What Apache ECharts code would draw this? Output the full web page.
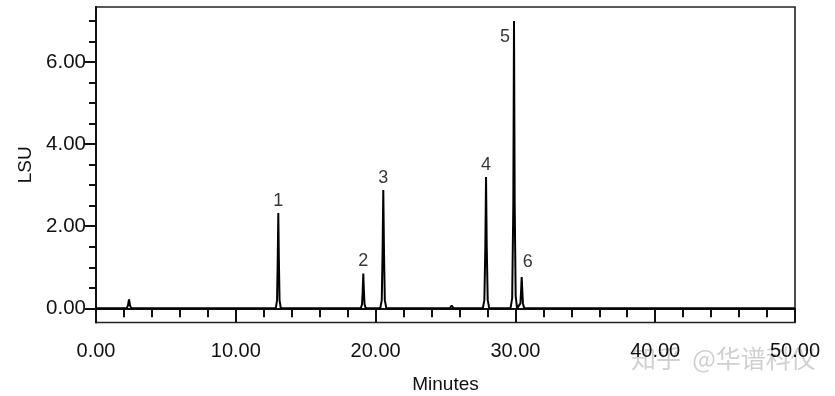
<!DOCTYPE html>
<html>
<head>
<meta charset="utf-8">
<script src="https://cdn.jsdelivr.net/npm/echarts@6/dist/echarts.min.js"></script>
<style>html,body{margin:0;padding:0;background:#fff}#c{width:835px;height:396px}</style>
</head>
<body>
<div id="c"></div>
<script>
// Chromatogram trace (minutes, LSU)
const traceTimes = [0, 2.18, 2.28, 2.36, 2.44, 2.54,
  12.86, 12.95, 13.0, 13.04, 13.08, 13.13, 13.22,
  18.94, 19.03, 19.08, 19.12, 19.16, 19.21, 19.30,
  20.33, 20.44, 20.50, 20.55, 20.60, 20.66, 20.77,
  25.30, 25.44, 25.58,
  27.67, 27.78, 27.85, 27.90, 27.95, 28.02, 28.13,
  29.65, 29.77, 29.85, 29.90, 29.95, 30.02, 30.12,
  30.26, 30.36, 30.41, 30.45, 30.49, 30.54, 30.63,
  50];
const traceValues = [0, 0, 0.06, 0.22, 0.06, 0,
  0, 0.2, 1.2, 2.32, 1.2, 0.2, 0,
  0, 0.1, 0.45, 0.85, 0.45, 0.1, 0,
  0, 0.2, 1.4, 2.88, 1.4, 0.2, 0,
  0, 0.07, 0,
  0, 0.2, 1.5, 3.2, 1.5, 0.2, 0,
  0, 0.25, 2.5, 7.0, 2.5, 0.3, 0,
  0, 0.12, 0.45, 0.76, 0.45, 0.12, 0,
  0];
// Peak numbering
const peakNames = ['1', '2', '3', '4', '5', '6'];
const peakTimes = [13.04, 19.12, 20.55, 27.90, 29.90, 30.45];
const peakHeights = [2.32, 0.85, 2.88, 3.2, 7.0, 0.76];
// Axis ticks
const yMajorTicks = [0, 2, 4, 6];
const yMinorTicks = [0.5, 1, 1.5, 2.5, 3, 3.5, 4.5, 5, 5.5, 6.5, 7];
const xTickStep = 10;

const FONT = '"Liberation Sans", Arial, sans-serif';
const labelOffsets = { '5': [-9, 28], '6': [6, -3] };

const chart = echarts.init(document.getElementById('c'), null, { renderer: 'canvas' });
const yMin = -0.345, yMax = 7.34;
const axisLineStyle = { color: '#111', width: 2 };

chart.setOption({
  animation: false,
  backgroundColor: '#fff',
  grid: { left: 96, right: 40, top: 7, bottom: 73.5, containLabel: false, outerBoundsMode: 'none',
    show: true, borderColor: '#222', borderWidth: 1.6, backgroundColor: 'transparent' },
  xAxis: {
    type: 'value', min: 0, max: 50, interval: xTickStep,
    name: 'Minutes', nameLocation: 'middle', nameGap: 53,
    nameTextStyle: { fontFamily: FONT, fontSize: 19, color: '#111' },
    axisLine: { lineStyle: axisLineStyle },
    axisTick: { length: 14, lineStyle: { color: '#111', width: 2 } },
    minorTick: { show: true, splitNumber: 5, length: 9, lineStyle: { color: '#111', width: 2 } },
    axisLabel: { fontFamily: FONT, fontSize: 20, color: '#111', margin: 19, formatter: v => v.toFixed(2) },
    splitLine: { show: false }
  },
  yAxis: [{
    type: 'value', min: yMin, max: yMax, position: 'left',
    name: 'LSU', nameLocation: 'middle', nameGap: 61, nameRotate: 90,
    nameTextStyle: { fontFamily: FONT, fontSize: 19, color: '#111' },
    axisLine: { show: true, lineStyle: axisLineStyle },
    axisTick: { show: true, length: 11, customValues: yMajorTicks, lineStyle: { color: '#111', width: 2 } },
    axisLabel: { fontFamily: FONT, fontSize: 20.5, color: '#111', margin: 10, customValues: yMajorTicks, formatter: v => v.toFixed(2) },
    splitLine: { show: false }
  }, {
    type: 'value', min: yMin, max: yMax, position: 'left', offset: 0,
    axisLine: { show: false },
    axisTick: { show: true, length: 7, customValues: yMinorTicks, lineStyle: { color: '#111', width: 2 } },
    axisLabel: { show: false },
    splitLine: { show: false }
  }],
  series: [{
    type: 'line',
    yAxisIndex: 0,
    data: traceTimes.map((t, i) => [t, traceValues[i]]),
    showSymbol: false,
    symbol: 'none',
    lineStyle: { color: '#000', width: 2 },
    silent: true
  }, {
    type: 'scatter',
    yAxisIndex: 0,
    symbolSize: 0,
    data: peakNames.map((n, i) => ({
      value: [peakTimes[i], peakHeights[i]],
      name: n,
      label: labelOffsets[n] ? { position: 'top', offset: labelOffsets[n] } : undefined
    })),
    label: { show: true, position: 'top', distance: 3, formatter: p => p.name, fontFamily: FONT, fontSize: 18, color: '#000' },
    silent: true
  }],
  graphic: [{
    type: 'text', left: 631, top: 346, silent: true,
    style: { text: '知乎  @华谱科仪', font: '25px "Noto Sans CJK SC", sans-serif', fill: 'rgba(150,150,150,0.45)' }
  }]
});
</script>
</body>
</html>
